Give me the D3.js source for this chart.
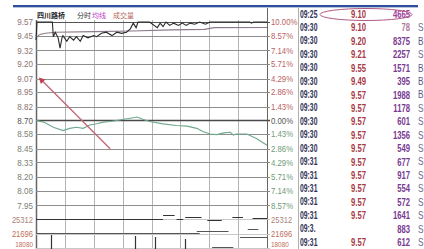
<!DOCTYPE html>
<html>
<head>
<meta charset="utf-8">
<script src="https://cdn.jsdelivr.net/npm/d3@7"></script>
<style>
  html, body { margin: 0; padding: 0; background: #fff; }
  svg { display: block; }
</style>
</head>
<body>
<div id="chart"></div>
<script>
// 分时图 + 逐笔成交 (四川路桥)

// --- données ---
const priceTicks = [9.57, 9.45, 9.32, 9.20, 9.07, 8.95, 8.82, 8.70, 8.58, 8.45, 8.33, 8.20, 8.08, 7.95]
const pctTicks = ["10.00%", "8.57%", "7.14%", "5.71%", "4.29%", "2.86%", "1.43%", "0.00%",
                  "1.43%", "2.86%", "4.29%", "5.71%", "7.14%", "8.57%"]
const volTicks = [25312, 21696, 18080]
const timeTicks = [0, 30, 60, 90, 120, 150, 180, 210, 240]
const prevClose = 8.70

// prix : [minute, prix]
const priceSeries = [
  [0, 9.41], [1, 9.57], [17, 9.57], [18, 9.44], [20, 9.48], [23, 9.43], [25, 9.34], [27, 9.43],
  [28, 9.45], [32, 9.40], [35, 9.44], [39, 9.41], [42, 9.44], [46, 9.40], [49, 9.45], [54, 9.43],
  [60, 9.45], [63, 9.44], [68, 9.47], [73, 9.48], [79, 9.45], [84, 9.48], [89, 9.47], [94, 9.48],
  [98, 9.51], [101, 9.56], [104, 9.52], [106, 9.57], [118, 9.57], [126, 9.52], [129, 9.56],
  [132, 9.53], [135, 9.57], [139, 9.54], [143, 9.56], [148, 9.54], [152, 9.56], [156, 9.54],
  [160, 9.56], [165, 9.55], [170, 9.57], [176, 9.55], [181, 9.57], [222, 9.57], [224, 9.56],
  [226, 9.57], [240, 9.57]
]
//均线
const avgSeries = [
  [0, 9.43], [4, 9.46], [10, 9.47], [20, 9.48], [60, 9.485], [100, 9.49], [140, 9.50],
  [175, 9.505], [185, 9.52], [240, 9.522]
]
// 大盘 (ligne verte)
const indexSeries = [
  [0, 8.70], [8, 8.685], [18, 8.64], [28, 8.61], [35, 8.63], [42, 8.64], [49, 8.63], [56, 8.66],
  [63, 8.67], [70, 8.685], [77, 8.69], [84, 8.70], [91, 8.71], [98, 8.72], [105, 8.73],
  [111, 8.71], [118, 8.69], [132, 8.67], [146, 8.655], [157, 8.65], [167, 8.63], [174, 8.60],
  [181, 8.58], [188, 8.575], [195, 8.59], [202, 8.595], [205, 8.57], [208, 8.58], [219, 8.58],
  [229, 8.54], [240, 8.48]
]
// volume : paliers [minute début, minute fin, valeur]
const volUpper = [
  [0, 132, 25300], [132, 144, 26440], [146, 153, 25340], [155, 172, 26000], [178, 193, 25160],
  [204, 215, 26000], [225, 240, 25600]
]
const volLower = [
  [0, 170, 21720], [167, 200, 22340], [183, 205, 18310], [212, 240, 20880], [220, 231, 22850]
]
const volBars = [[16, 21300], [103, 21050], [124, 20800], [155, 20290]]

// flèche annotée : [minute, prix] queue → pointe
const arrowPts = [[77, 8.45], [3, 9.08]]

// 逐笔成交
const tradeTimes = ["09:25", "09:30", "09:30", "09:30", "09:30", "09:30", "09:30", "09:30", "09:30",
  "09:30", "09:30", "09:31", "09:31", "09:31", "09:31", "09:31", "09:3.", "09:31"]
const tradePrices = ["9.10", "9.10", "9.20", "9.21", "9.55", "9.49", "9.57", "9.57", "9.57",
  "9.57", "9.57", "9.57", "9.57", "9.57", "9.57", "9.57", "", "9.57"]
const tradeVols = ["4665", "78", "8375", "2257", "1571", "395", "1988", "1178", "601",
  "1356", "549", "677", "917", "554", "572", "1641", "883", "612"]
const tradeSides = ["", "S", "B", "S", "B", "B", "B", "S", "S", "S", "S", "S", "S", "S", "S", "S", "S", "S"]

// --- mise en page ---
const W = 424, H = 249
const svg = d3.select("#chart").append("svg")
  .attr("width", W).attr("height", H)
  .attr("viewBox", `0 0 ${W} ${H}`)
  .style("background", "#fff")

const x = d3.scaleLinear().domain([0, 240]).range([36, 267])
const yP = d3.scaleLinear().domain([7.95, 9.57]).range([205.3, 22])
const yV = d3.scaleLinear().domain([21696, 25312]).range([233.5, 219.4])
const crisp = (v) => Math.round(v) + 0.5

// bandeau bleu
svg.append("line")
  .attr("x1", 13).attr("x2", 418).attr("y1", 6).attr("y2", 6)
  .attr("stroke", "#2d4f9c").attr("stroke-width", 2)
svg.append("line")
  .attr("x1", 13).attr("x2", 418).attr("y1", 7.5).attr("y2", 7.5)
  .attr("stroke", "#b8c4de").attr("stroke-width", 1)

// grille verticale
svg.append("g").selectAll("line")
  .data(timeTicks)
  .join("line")
  .attr("x1", (d) => crisp(x(d))).attr("x2", (d) => crisp(x(d)))
  .attr("y1", (d) => (d === 240 ? 8 : 20)).attr("y2", H)
  .attr("stroke", (d) => (d === 0 || d === 240 ? "#666" : "#b4b4b4"))
  .attr("stroke-width", (d) => (d === 0 ? 1.5 : 1))

// grille horizontale prix
svg.append("g").selectAll("line")
  .data(priceTicks)
  .join("line")
  .attr("x1", x(0)).attr("x2", x(240) + 3)
  .attr("y1", (d) => crisp(yP(d))).attr("y2", (d) => crisp(yP(d)))
  .attr("stroke", (d) => (d === prevClose ? "#4a4a4a" : d === 9.57 ? "#555" : "#8e8e8e"))
  .attr("stroke-width", (d) => (d === prevClose ? 1.3 : 1))

// grille horizontale volume
svg.append("g").selectAll("line")
  .data(volTicks)
  .join("line")
  .attr("x1", x(0)).attr("x2", x(240) + 3)
  .attr("y1", (d) => crisp(yV(d))).attr("y2", (d) => crisp(yV(d)))
  .attr("stroke", "#c8c8c8")

// libellés gauche
const leftLbl = svg.append("g")
  .attr("font-family", "Liberation Sans, Arial, sans-serif").attr("font-size", 9.5)
priceTicks.forEach((v) => {
  leftLbl.append("text")
    .attr("transform", `translate(33,${yP(v)}) scale(0.85,1)`)
    .attr("text-anchor", "end").attr("dominant-baseline", "central")
    .attr("fill", v > prevClose ? "#8a7474" : v === prevClose ? "#555" : "#778077")
    .text(v.toFixed(2))
})
volTicks.forEach((v, i) => {
  leftLbl.append("text")
    .attr("transform", `translate(33,${Math.min(yV(v), 244)}) scale(0.8,1)`)
    .attr("text-anchor", "end").attr("dominant-baseline", "central")
    .attr("font-size", i === 2 ? 8 : 9.5)
    .attr("fill", i === 0 ? "#a88478" : "#c0705a")
    .text(v)
})

// libellés droite
const rightLbl = svg.append("g")
  .attr("font-family", "Liberation Sans, Arial, sans-serif").attr("font-size", 9.5)
pctTicks.forEach((t, i) => {
  rightLbl.append("text")
    .attr("transform", `translate(271,${yP(priceTicks[i])}) scale(0.82,1)`)
    .attr("dominant-baseline", "central")
    .attr("fill", i < 7 ? "#bb6262" : i === 7 ? "#555" : "#6f9a78")
    .text(t)
})
volTicks.forEach((v, i) => {
  rightLbl.append("text")
    .attr("transform", `translate(271,${Math.min(yV(v), 244)}) scale(0.8,1)`)
    .attr("dominant-baseline", "central")
    .attr("font-size", i === 2 ? 8 : 9.5)
    .attr("fill", i === 0 ? "#a88478" : "#c0705a")
    .text(v)
})

// titre
const title = svg.append("g")
  .attr("font-family", "Noto Sans CJK SC, sans-serif").attr("font-size", 7)
  .attr("dominant-baseline", "central")
title.append("text").attr("x", 37).attr("y", 15).attr("fill", "#222").attr("font-weight", 700).text("四川路桥")
title.append("text").attr("x", 77).attr("y", 15).attr("fill", "#333").text("分时")
title.append("text").attr("x", 92).attr("y", 15).attr("fill", "#c040c8").text("均线")
title.append("text").attr("x", 113).attr("y", 15).attr("fill", "#b8665a").text("成交量")

// séries
const lineP = d3.line().x((d) => x(d[0])).y((d) => yP(d[1]))

svg.append("path").datum(indexSeries)
  .attr("d", lineP).attr("fill", "none")
  .attr("stroke", "#6fa98e").attr("stroke-width", 1.1)

svg.append("path").datum(avgSeries)
  .attr("d", lineP).attr("fill", "none")
  .attr("stroke", "#8c7a88").attr("stroke-width", 1.1)

svg.append("path").datum(priceSeries)
  .attr("d", lineP).attr("fill", "none")
  .attr("stroke", "#2a2a2a").attr("stroke-width", 1.1)

// volume
svg.append("g").selectAll("line")
  .data(volUpper)
  .join("line")
  .attr("x1", (d) => x(d[0])).attr("x2", (d) => x(d[1]))
  .attr("y1", (d) => crisp(yV(d[2]))).attr("y2", (d) => crisp(yV(d[2])))
  .attr("stroke", "#333")
svg.append("g").selectAll("line")
  .data(volLower)
  .join("line")
  .attr("x1", (d) => x(d[0])).attr("x2", (d) => x(d[1]))
  .attr("y1", (d) => crisp(yV(d[2]))).attr("y2", (d) => crisp(yV(d[2])))
  .attr("stroke", "#555")
svg.append("g").selectAll("line")
  .data(volBars)
  .join("line")
  .attr("x1", (d) => crisp(x(d[0]))).attr("x2", (d) => crisp(x(d[0])))
  .attr("y1", (d) => yV(d[1])).attr("y2", H)
  .attr("stroke", "#333").attr("stroke-width", 1.2)

// flèche
const head = arrowPts[1], tail = arrowPts[0]
const hx = x(head[0]), hy = yP(head[1]), tx = x(tail[0]), ty = yP(tail[1])
const ang = Math.atan2(hy - ty, hx - tx)
svg.append("line")
  .attr("x1", tx).attr("y1", ty).attr("x2", hx - 4 * Math.cos(ang)).attr("y2", hy - 4 * Math.sin(ang))
  .attr("stroke", "#c46a78").attr("stroke-width", 1.4)
const ah = 6, aw = 3.2
svg.append("path")
  .attr("d", `M${hx},${hy}` +
    `L${hx - ah * Math.cos(ang) + aw * Math.sin(ang)},${hy - ah * Math.sin(ang) - aw * Math.cos(ang)}` +
    `L${hx - ah * Math.cos(ang) - aw * Math.sin(ang)},${hy - ah * Math.sin(ang) + aw * Math.cos(ang)}Z`)
  .attr("fill", "#c0404e")

// séparateur tableau
svg.append("line")
  .attr("x1", 298.5).attr("x2", 298.5).attr("y1", 8).attr("y2", H)
  .attr("stroke", "#b0b0b0")

// tableau 逐笔
const rowY = d3.scalePoint().domain(d3.range(tradeTimes.length)).range([14, 242])
const tbl = svg.append("g")
  .attr("font-family", "Liberation Sans, Arial, sans-serif").attr("font-size", 11)
  .attr("font-weight", 700).attr("dominant-baseline", "central")

tradeTimes.forEach((t, i) => {
  const cy = rowY(i)
  tbl.append("text").attr("transform", `translate(300,${cy}) scale(0.62,1)`)
    .attr("fill", "#2e3156").text(t)
  if (tradePrices[i]) {
    tbl.append("text").attr("transform", `translate(351,${cy}) scale(0.7,1)`)
      .attr("fill", "#a83844").text(tradePrices[i])
  }
  tbl.append("text").attr("transform", `translate(410,${cy}) scale(0.7,1)`)
    .attr("text-anchor", "end")
    .attr("fill", i === 1 ? "#b07a9a" : i === 0 ? "#a040a0" : "#7a3a92").text(tradeVols[i])
  if (tradeSides[i]) {
    tbl.append("text").attr("transform", `translate(418,${cy}) scale(0.75,1)`)
      .attr("font-weight", 400)
      .attr("fill", tradeSides[i] === "B" ? "#5a5a88" : "#6a6a8a").text(tradeSides[i])
  }
})

// ellipse autour de la première ligne
svg.append("ellipse")
  .attr("cx", 366).attr("cy", rowY(0) + 0.5).attr("rx", 46).attr("ry", 6)
  .attr("fill", "none").attr("stroke", "#b05a84").attr("stroke-width", 1)
</script>
</body>
</html>
